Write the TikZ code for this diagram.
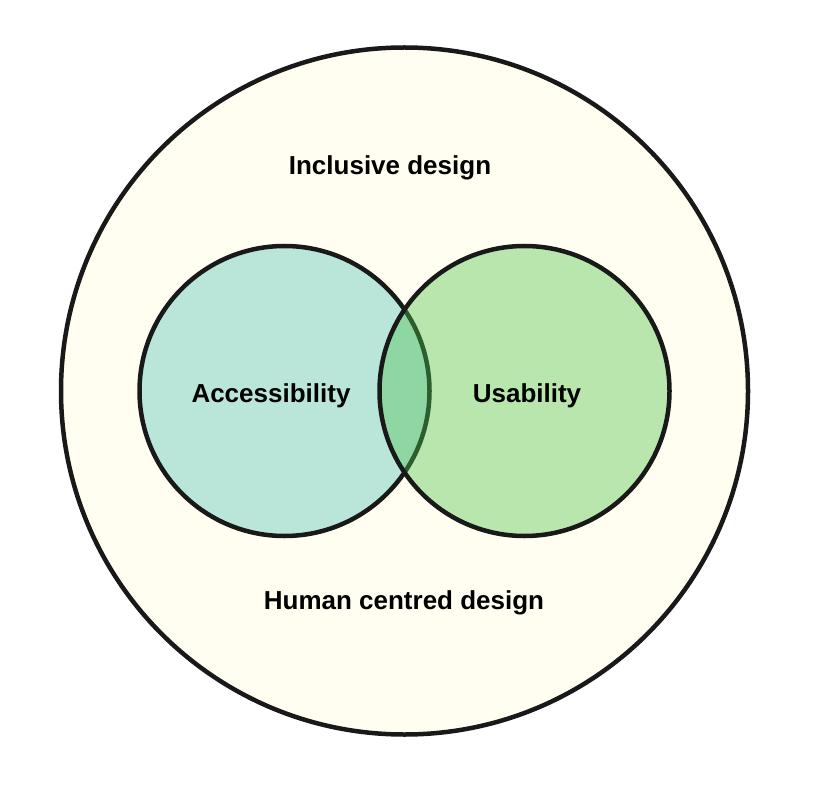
\documentclass[tikz,border=0pt]{standalone}
\usepackage{fontspec}
\setmainfont{Liberation Sans}
\usepackage{tikz}

\definecolor{ivory}{HTML}{FFFEF0}
\definecolor{tealfill}{HTML}{B9E6D9}
\definecolor{greenfill}{HTML}{B8E6AC}
\definecolor{lensfill}{HTML}{8ED6A2}
\definecolor{darkedge}{HTML}{2C5E2E}

\begin{document}
\begin{tikzpicture}[x=1pt,y=-1pt,
  ring/.style={line width=4.5pt, draw=black!90},
  label/.style={font=\fontsize{26}{30}\selectfont\bfseries, anchor=base, inner sep=0pt}]
\useasboundingbox (0,0) rectangle (824,786);
% Inclusive design (outer circle)
\filldraw[ring, fill=ivory] (404.5,391) circle (343.5);
% Accessibility
\coordinate (acc) at (284.5,391);
\filldraw[ring, fill=tealfill] (acc) circle (145);
% Usability
\coordinate (usa) at (524.5,391);
\fill[greenfill] (usa) circle (145);
% Overlap
\begin{scope}
\clip (usa) circle (145);
\fill[lensfill] (acc) circle (145);
\draw[ring, draw=darkedge] (acc) circle (145);
\end{scope}
\draw[ring] (usa) circle (145);
% Labels
\node[label] (inclusive) at (390,175) {Inclusive design};
\node[label] (access) at (271,402) {Accessibility};
\node[label] (usab) at (527,402) {Usability};
\node[label] (human) at (404,609) {Human centred design};
\end{tikzpicture}
\end{document}
